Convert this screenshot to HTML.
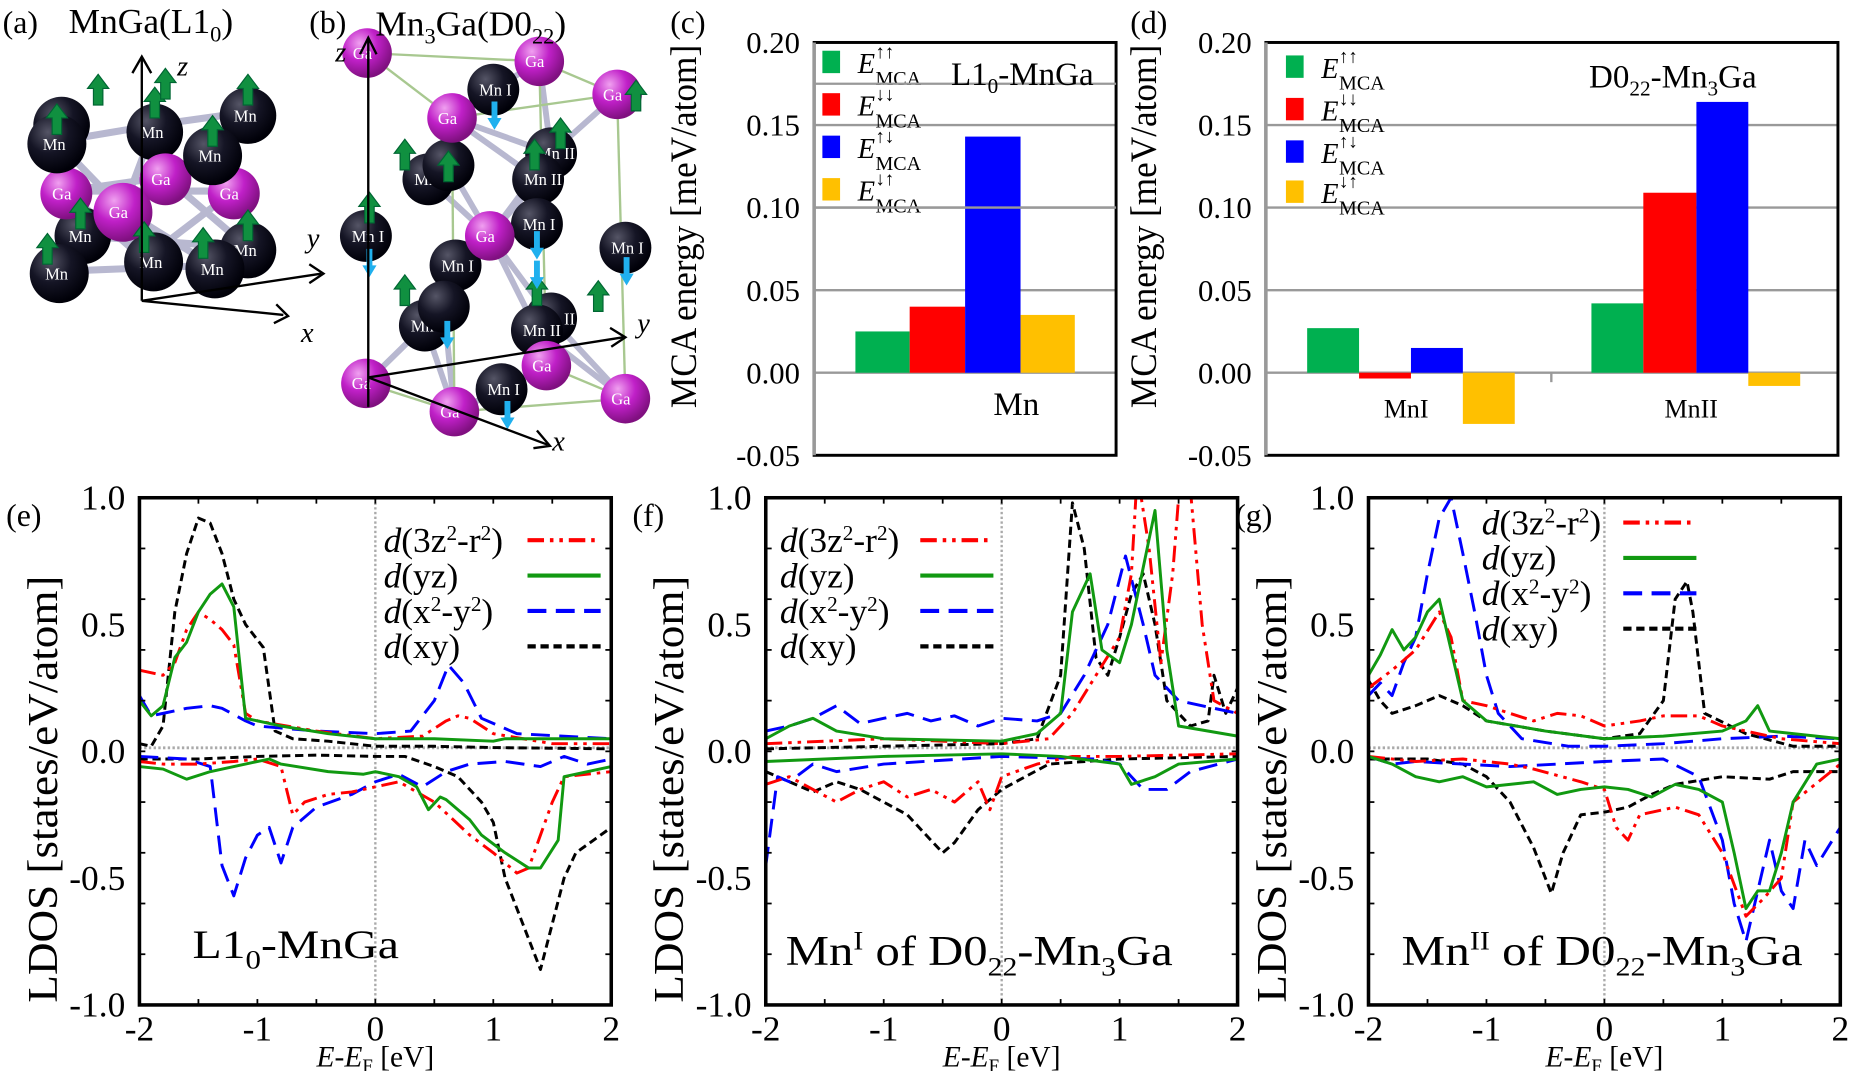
<!DOCTYPE html>
<html><head><meta charset="utf-8"><style>
html,body{margin:0;padding:0;background:#fff;}
svg{display:block;}
text{font-family:"Liberation Serif",serif;fill:#000;}
</style></head><body>
<svg id="s" width="1850" height="1071" viewBox="0 0 1568 908" xmlns="http://www.w3.org/2000/svg">
<defs>
<radialGradient id="gm" cx="0.35" cy="0.3" r="0.7"><stop offset="0" stop-color="#555566"/><stop offset="0.5" stop-color="#151525"/><stop offset="1" stop-color="#000008"/></radialGradient>
<radialGradient id="gg" cx="0.35" cy="0.3" r="0.7"><stop offset="0" stop-color="#f0a0f0"/><stop offset="0.5" stop-color="#c020c8"/><stop offset="1" stop-color="#801080"/></radialGradient>
</defs>
<g id="crys"></g>
<text x="2" y="28" font-size="27">(a)</text>
<text x="58" y="28" font-size="30">MnGa(L1<tspan font-size="19" dy="7">0</tspan><tspan dy="-7">)</tspan></text>
<text x="262" y="28" font-size="27">(b)</text>
<text x="318" y="30" font-size="30">Mn<tspan font-size="19" dy="7">3</tspan><tspan dy="-7">Ga(D0</tspan><tspan font-size="19" dy="7">22</tspan><tspan dy="-7">)</tspan></text>
<text x="568" y="28" font-size="27">(c)</text>
<text x="958" y="28" font-size="27">(d)</text>
<g id="bars"></g>
<g id="ldos"></g>
</svg>
<script>
var NS="http://www.w3.org/2000/svg";
function el(p,t,a,txt){var e=document.createElementNS(NS,t);for(var k in a)e.setAttribute(k,a[k]);if(txt!==undefined)e.textContent=txt;p.appendChild(e);return e;}
var C=document.getElementById('crys');
function bond(x1,y1,x2,y2,w){el(C,'line',{x1:x1,y1:y1,x2:x2,y2:y2,stroke:'#b8b8d0','stroke-width':w||6,'stroke-linecap':'round'});}
function sph(x,y,r,ga,lab){el(C,'circle',{cx:x,cy:y,r:r,fill:ga?'url(#gg)':'url(#gm)'});if(lab)el(C,'text',{x:x-12,y:y+5,'font-size':14,style:'fill:#fff'},lab);}
function up(x,y){el(C,'path',{d:'M'+(x-4)+' '+(y+14)+'V'+(y)+'H'+(x-9)+'L'+x+' '+(y-12)+'L'+(x+9)+' '+y+'H'+(x+4)+'V'+(y+14)+'Z',fill:'#109040',stroke:'#063','stroke-width':1});}
function dn(x,y){el(C,'path',{d:'M'+(x-2.5)+' '+(y-14)+'V'+(y)+'H'+(x-6)+'L'+x+' '+(y+10)+'L'+(x+6)+' '+y+'H'+(x+2.5)+'V'+(y-14)+'Z',fill:'#20b0ee'});}
[[48,120,131,106],[131,106,210,95],[48,120,104,178],[131,106,104,178],[180,130,104,178],[104,178,50,230],[104,178,122,220],[104,178,180,225],[56,162,122,220],[140,150,210,210],[198,162,122,220],[50,230,180,225],[68,200,210,210],[56,162,198,162],[140,150,56,162]].forEach(function(b){bond(b[0],b[1],b[2],b[3]);});
[[52,106,'Mn'],[131,112,'Mn'],[210,98,'Mn'],[70,200,'Mn'],[210,212,'Mn']].forEach(function(p){sph(p[0],p[1],24,0,p[2]);});
sph(140,152,22,1,'Ga');sph(56,164,22,1,'Ga');sph(198,164,22,1,'Ga');
[[48,122,'Mn'],[180,132,'Mn'],[130,222,'Mn'],[50,232,'Mn'],[182,228,'Mn']].forEach(function(p){sph(p[0],p[1],25,0,p[2]);});
sph(104,180,25,1,'Ga');
[[48,100],[131,86],[210,75],[180,110],[68,180],[210,190],[122,200],[40,210],[172,205],[83,75],[140,70]].forEach(function(p){up(p[0],p[1]);});
el(C,'line',{x1:120,y1:50,x2:120,y2:255,stroke:'#000','stroke-width':2});
el(C,'path',{d:'M112 62L120 48L128 62',fill:'none',stroke:'#000','stroke-width':2});
el(C,'line',{x1:120,y1:255,x2:272,y2:232,stroke:'#000','stroke-width':2});
el(C,'path',{d:'M262 224L274 232L262 240',fill:'none',stroke:'#000','stroke-width':2});
el(C,'line',{x1:120,y1:255,x2:240,y2:267,stroke:'#000','stroke-width':2});
el(C,'path',{d:'M234 258L244 268L232 274',fill:'none',stroke:'#000','stroke-width':2});
el(C,'text',{x:150,y:64,'font-size':24,'font-style':'italic'},'z');
el(C,'text',{x:260,y:210,'font-size':24,'font-style':'italic'},'y');
el(C,'text',{x:255,y:290,'font-size':24,'font-style':'italic'},'x');
var gaB=[[311,45],[457,52],[523,80],[383,100],[310,325],[385,349],[530,338],[463,310],[415,200]];
var mnB=[[418,76,'Mn I'],[467,130,'Mn II'],[363,152,'Mn II'],[456,152,'Mn II'],[310,200,'Mn I'],[455,190,'Mn I'],[530,210,'Mn I'],[386,225,'Mn I'],[467,270,'Mn II'],[360,276,'Mn II'],[455,280,'Mn II'],[425,330,'Mn I'],[380,140,''],[376,260,'']];
gaB.forEach(function(a){mnB.forEach(function(b){var d=Math.hypot(a[0]-b[0],a[1]-b[1]);if(d<95)bond(a[0],a[1],b[0],b[1],5);});});
[[311,45,457,52],[457,52,523,80],[311,45,383,100],[383,100,523,80],[310,325,385,349],[385,349,530,338],[530,338,463,310],[523,80,530,338],[383,100,385,349],[457,52,463,310]].forEach(function(b){el(C,'line',{x1:b[0],y1:b[1],x2:b[2],y2:b[3],stroke:'#a8c890','stroke-width':2});});
mnB.forEach(function(m){sph(m[0],m[1],22,0,m[2]);});
gaB.forEach(function(g){sph(g[0],g[1],21,1,'Ga');});
[[343,130],[380,140],[475,112],[453,130],[539,80],[343,245],[455,245],[507,250],[313,175]].forEach(function(p){up(p[0],p[1]);});
[[419,100],[455,210],[531,232],[379,286],[430,354],[313,225],[455,235]].forEach(function(p){dn(p[0],p[1]);});
el(C,'line',{x1:312,y1:32,x2:312,y2:345,stroke:'#000','stroke-width':2});
el(C,'path',{d:'M305 46L312 32L319 46',fill:'none',stroke:'#000','stroke-width':2});
el(C,'line',{x1:312,y1:320,x2:528,y2:286,stroke:'#000','stroke-width':2});
el(C,'path',{d:'M517 278L530 286L518 294',fill:'none',stroke:'#000','stroke-width':2});
el(C,'line',{x1:312,y1:320,x2:464,y2:377,stroke:'#000','stroke-width':2});
el(C,'path',{d:'M455 365L466 378L452 380',fill:'none',stroke:'#000','stroke-width':2});
el(C,'text',{x:284,y:52,'font-size':24,'font-style':'italic'},'z');
el(C,'text',{x:540,y:282,'font-size':24,'font-style':'italic'},'y');
el(C,'text',{x:468,y:382,'font-size':24,'font-style':'italic'},'x');

var B=document.getElementById('bars');
function yb(v){return 316-v*1400;}
function barPanel(x0,x1,bars,legX){
 [0.05,0.10,0.15].forEach(function(v){el(B,'line',{x1:x0,y1:yb(v),x2:x1,y2:yb(v),stroke:'#999','stroke-width':2});});
 el(B,'line',{x1:x0,y1:yb(0),x2:x1,y2:yb(0),stroke:'#999','stroke-width':2});
 bars.forEach(function(b){var y=yb(Math.max(b[2],0)),h=Math.abs(b[2])*1400;el(B,'rect',{x:b[0],y:y,width:b[1]-b[0],height:Math.max(h,1),fill:b[3]});});
 el(B,'rect',{x:x0,y:36,width:x1-x0,height:350,fill:'none',stroke:'#000','stroke-width':2.5});
 el(B,'line',{x1:x0,y1:36,x2:x0,y2:386,stroke:'#999','stroke-width':3});
 [['0.20',0.2],['0.15',0.15],['0.10',0.1],['0.05',0.05],['0.00',0],['-0.05',-0.05]].forEach(function(t){el(B,'text',{x:x0-12,y:yb(t[1])+9,'font-size':26,'text-anchor':'end'},t[0]);});
 var sups=['↑↑','↓↓','↑↓','↓↑'],cols=['#00b050','#ff0000','#0000ff','#ffc000'],ys=legX[1];
 for(var i=0;i<4;i++){el(B,'rect',{x:legX[0],y:ys[i]-9,width:15,height:19,fill:cols[i]});
  el(B,'text',{x:legX[0]+30,y:ys[i]+10,'font-size':24,'font-style':'italic'},'E');
  el(B,'text',{x:legX[0]+45,y:ys[i]-3,'font-size':16},sups[i]);
  el(B,'text',{x:legX[0]+45,y:ys[i]+20,'font-size':17,'font-family':'Liberation Sans'},'MCA');}
}
barPanel(690,946,[[725,771,0.025,'#00b050'],[771,818,0.04,'#ff0000'],[818,865,0.143,'#0000ff'],[865,911,0.035,'#ffc000']],[697,[52,88,124,160]]);
el(B,'line',{x1:690,y1:71,x2:946,y2:71,stroke:'#999','stroke-width':2});
el(B,'line',{x1:690,y1:176,x2:946,y2:176,stroke:'#999','stroke-width':2});
var tt=el(B,'text',{x:806,y:72,'font-size':28});tt.innerHTML='L1<tspan font-size="18" dy="7">0</tspan><tspan dy="-7">-MnGa</tspan>';
el(B,'text',{x:842,y:352,'font-size':28},'Mn');
barPanel(1073,1558,[[1108,1152,0.027,'#00b050'],[1152,1196,-0.0035,'#ff0000'],[1196,1240,0.015,'#0000ff'],[1240,1284,-0.031,'#ffc000'],[1349,1393,0.042,'#00b050'],[1393,1438,0.109,'#ff0000'],[1438,1482,0.164,'#0000ff'],[1482,1526,-0.008,'#ffc000']],[1090,[56,92,128,162]]);
el(B,'line',{x1:1315,y1:316,x2:1315,y2:324,stroke:'#999','stroke-width':2});
var td=el(B,'text',{x:1347,y:74,'font-size':28});td.innerHTML='D0<tspan font-size="18" dy="7">22</tspan><tspan dy="-7">-Mn</tspan><tspan font-size="18" dy="7">3</tspan><tspan dy="-7">Ga</tspan>';
el(B,'text',{x:1173,y:354,'font-size':22},'MnI');el(B,'text',{x:1411,y:354,'font-size':22},'MnII');
[590,980].forEach(function(p){el(B,'text',{x:0,y:0,'font-size':31,'text-anchor':'middle',textLength:308,lengthAdjust:'spacingAndGlyphs',transform:'translate('+p+',192) rotate(-90)'},'MCA energy [meV/atom]');});

var L=document.getElementById('ldos');
var cfg={r:['#ff0000','14,5,3,5,3,5'],g:['#119911',''],b:['#0000ff','16,8'],k:['#000','7,4']};
function panel(x0,lab,series){
 var x1=x0+400,yt=422,yb2=852,y0=637;
 function X(e){return x0+(e+2)*100;} function Y(v){return y0-v*215;}
 el(L,'line',{x1:x0,y1:y0-3,x2:x1,y2:y0-3,stroke:'#aaa','stroke-width':2.5,'stroke-dasharray':'2,2'});
 el(L,'line',{x1:X(0),y1:yt,x2:X(0),y2:yb2,stroke:'#aaa','stroke-width':2,'stroke-dasharray':'2,2'});
 var cp=el(L,'clipPath',{id:'c'+x0});el(cp,'rect',{x:x0,y:yt,width:400,height:430});
 var g=el(L,'g',{'clip-path':'url(#c'+x0+')'});
 ['k','b','r','g'].forEach(function(k){series[k].forEach(function(d){var s='';d.forEach(function(p,i){s+=(i?'L':'M')+X(p[0]).toFixed(1)+' '+Y(p[1]).toFixed(1);});
  el(g,'path',{d:s,fill:'none',stroke:cfg[k][0],'stroke-width':2.5,'stroke-dasharray':cfg[k][1],'stroke-linejoin':'round'});});});
 el(L,'rect',{x:x0,y:yt,width:400,height:430,fill:'none',stroke:'#000','stroke-width':3});
 for(var e=-2;e<=2;e+=0.5){el(L,'line',{x1:X(e),y1:yb2,x2:X(e),y2:yb2-5,stroke:'#000','stroke-width':1.5});el(L,'line',{x1:X(e),y1:yt,x2:X(e),y2:yt+5,stroke:'#000','stroke-width':1.5});}
 for(var v=-1;v<=1.01;v+=0.2){el(L,'line',{x1:x0,y1:Y(v),x2:x0+5,y2:Y(v),stroke:'#000','stroke-width':1.5});el(L,'line',{x1:x1,y1:Y(v),x2:x1-5,y2:Y(v),stroke:'#000','stroke-width':1.5});}
 [['1.0',1],['0.5',0.5],['0.0',0],['-0.5',-0.5],['-1.0',-1]].forEach(function(t){el(L,'text',{x:x0-12,y:Y(t[1])+10,'font-size':30,'text-anchor':'end'},t[0]);});
 [-2,-1,0,1,2].forEach(function(e){el(L,'text',{x:X(e),y:882,'font-size':30,'text-anchor':'middle'},String(e));});
 var t=el(L,'text',{x:X(0),y:904,'font-size':25,'text-anchor':'middle'});
 t.innerHTML='<tspan font-style="italic">E</tspan>-<tspan font-style="italic">E</tspan><tspan font-size="16" dy="5">F</tspan><tspan dy="-5"> [eV]</tspan>';
 el(L,'text',{x:0,y:0,'font-size':36,'text-anchor':'middle',textLength:362,lengthAdjust:'spacingAndGlyphs',transform:'translate('+(x0-70)+',669) rotate(-90)'},'LDOS [states/eV/atom]');
 el(L,'text',{x:x0-113,y:446,'font-size':27},lab);
}
function leg(x,y,lx){
 var names=['(3z<tspan font-size="18" dy="-10">2</tspan><tspan dy="10">-r</tspan><tspan font-size="18" dy="-10">2</tspan><tspan dy="10">)</tspan>','(yz)','(x<tspan font-size="18" dy="-10">2</tspan><tspan dy="10">-y</tspan><tspan font-size="18" dy="-10">2</tspan><tspan dy="10">)</tspan>','(xy)'];
 var ks=['r','g','b','k'];
 for(var i=0;i<4;i++){var t=el(L,'text',{x:x,y:y+i*30,'font-size':30});t.innerHTML='<tspan font-style="italic">d</tspan>'+names[i];
  el(L,'line',{x1:lx,y1:y+i*30-10,x2:lx+62,y2:y+i*30-10,stroke:cfg[ks[i]][0],'stroke-width':3.5,'stroke-dasharray':cfg[ks[i]][1]});}
}
var E={
k:[[[-2,0.03],[-1.9,0.02],[-1.8,0.1],[-1.7,0.55],[-1.6,0.78],[-1.5,0.92],[-1.4,0.9],[-1.3,0.78],[-1.2,0.6],[-1.1,0.5],[-0.95,0.41],[-0.85,0.08],[-0.7,0.05],[-0.4,0.04],[0,0.02],[0.5,0.02],[1,0.015],[2,0.01]],
[[-2,-0.03],[-1.5,-0.03],[-1,-0.02],[-0.5,-0.015],[0,-0.02],[0.25,-0.02],[0.5,-0.06],[0.7,-0.1],[0.9,-0.2],[1.0,-0.28],[1.1,-0.5],[1.2,-0.62],[1.4,-0.86],[1.6,-0.5],[1.7,-0.4],[1.85,-0.35],[2,-0.3]]],
g:[[[-2,0.2],[-1.9,0.14],[-1.8,0.18],[-1.7,0.37],[-1.6,0.43],[-1.5,0.55],[-1.4,0.62],[-1.3,0.66],[-1.2,0.57],[-1.1,0.13],[-0.8,0.1],[-0.4,0.07],[0,0.05],[0.5,0.05],[1,0.04],[1.1,0.05],[1.5,0.05],[2,0.05]],
[[-2,-0.06],[-1.8,-0.07],[-1.6,-0.11],[-1.4,-0.08],[-1.2,-0.06],[-0.9,-0.03],[-0.8,-0.05],[-0.4,-0.08],[-0.1,-0.09],[0,-0.08],[0.2,-0.1],[0.35,-0.14],[0.45,-0.23],[0.55,-0.18],[0.6,-0.19],[0.8,-0.27],[0.9,-0.33],[1.1,-0.4],[1.3,-0.46],[1.4,-0.46],[1.55,-0.35],[1.6,-0.1],[2,-0.06]]],
r:[[[-2,0.32],[-1.8,0.3],[-1.7,0.35],[-1.6,0.48],[-1.5,0.55],[-1.4,0.52],[-1.3,0.48],[-1.2,0.42],[-1.1,0.15],[-1,0.12],[-0.5,0.08],[0,0.05],[0.4,0.06],[0.6,0.12],[0.7,0.14],[0.8,0.13],[1,0.07],[1.5,0.03],[2,0.03]],
[[-2,-0.04],[-1.8,-0.05],[-1.5,-0.05],[-1.2,-0.04],[-1,-0.03],[-0.8,-0.06],[-0.7,-0.25],[-0.6,-0.2],[-0.4,-0.17],[-0.2,-0.16],[0,-0.14],[0.2,-0.12],[0.5,-0.2],[0.8,-0.33],[1,-0.4],[1.2,-0.48],[1.3,-0.46],[1.5,-0.2],[1.6,-0.1],[2,-0.08]]],
b:[[[-2,0.22],[-1.9,0.14],[-1.8,0.15],[-1.6,0.17],[-1.4,0.18],[-1.3,0.17],[-1.1,0.12],[-1,0.1],[-0.5,0.08],[0,0.07],[0.3,0.08],[0.5,0.2],[0.62,0.34],[0.75,0.27],[0.9,0.13],[1.2,0.07],[2,0.05]],
[[-2,-0.02],[-1.6,-0.03],[-1.4,-0.06],[-1.3,-0.45],[-1.2,-0.57],[-1.1,-0.42],[-1,-0.33],[-0.9,-0.3],[-0.8,-0.44],[-0.7,-0.3],[-0.5,-0.22],[-0.2,-0.17],[0,-0.12],[0.2,-0.09],[0.4,-0.14],[0.6,-0.08],[0.8,-0.05],[1.1,-0.04],[1.4,-0.06],[1.6,-0.02],[1.8,-0.05],[2,-0.03]]]};
var F={
k:[[[-2,0.01],[-1,0.02],[0,0.03],[0.3,0.05],[0.5,0.3],[0.6,0.98],[0.7,0.8],[0.8,0.37],[0.9,0.3],[1.0,0.45],[1.1,0.62],[1.2,0.7],[1.3,0.5],[1.4,0.2],[1.6,0.1],[1.75,0.12],[1.8,0.3],[1.9,0.15],[2,0.25]],
[[-2,-0.08],[-1.8,-0.12],[-1.6,-0.16],[-1.4,-0.12],[-1.2,-0.15],[-1,-0.2],[-0.8,-0.25],[-0.6,-0.35],[-0.5,-0.4],[-0.4,-0.36],[-0.2,-0.23],[0,-0.15],[0.2,-0.1],[0.4,-0.05],[1,-0.03],[2,-0.02]]],
g:[[[-2,0.05],[-1.8,0.1],[-1.6,0.13],[-1.4,0.08],[-1,0.05],[0,0.04],[0.3,0.07],[0.5,0.15],[0.6,0.55],[0.75,0.7],[0.85,0.4],[1.0,0.35],[1.1,0.5],[1.3,0.95],[1.4,0.4],[1.5,0.1],[2,0.06]],
[[-2,-0.04],[-1.5,-0.03],[-1,-0.02],[0,-0.01],[0.5,-0.02],[1,-0.05],[1.1,-0.13],[1.3,-0.1],[1.5,-0.05],[2,-0.03]]],
r:[[[-2,0.03],[-1,0.05],[0,0.03],[0.4,0.05],[0.6,0.15],[0.8,0.3],[1.0,0.45],[1.1,0.7],[1.15,1.1],[1.25,0.8],[1.35,0.35],[1.45,0.7],[1.55,1.3],[1.7,0.5],[1.8,0.2],[2,0.15]],
[[-2,-0.13],[-1.8,-0.1],[-1.6,-0.15],[-1.4,-0.2],[-1.2,-0.15],[-1,-0.12],[-0.8,-0.18],[-0.6,-0.15],[-0.4,-0.2],[-0.2,-0.12],[-0.1,-0.23],[0,-0.1],[0.3,-0.05],[0.6,-0.02],[1,-0.02],[2,-0.01]]],
b:[[[-2,0.08],[-1.8,0.1],[-1.6,0.13],[-1.4,0.18],[-1.2,0.11],[-1,0.13],[-0.8,0.15],[-0.6,0.12],[-0.4,0.14],[-0.2,0.1],[0,0.13],[0.3,0.12],[0.5,0.15],[0.7,0.3],[0.9,0.5],[1.05,0.77],[1.2,0.5],[1.3,0.3],[1.5,0.2],[2,0.15]],
[[-2,-0.45],[-1.9,-0.1],[-1.8,-0.12],[-1.6,-0.05],[-1.4,-0.08],[-1,-0.05],[0,-0.02],[0.8,-0.03],[1.0,-0.05],[1.1,-0.1],[1.2,-0.15],[1.4,-0.15],[1.6,-0.08],[2,-0.03]]]};
var G={
b:[[[-2,0.22],[-1.9,0.27],[-1.8,0.22],[-1.7,0.35],[-1.6,0.45],[-1.5,0.7],[-1.4,0.92],[-1.3,1.0],[-1.2,0.78],[-1.1,0.55],[-1,0.3],[-0.9,0.15],[-0.7,0.05],[-0.3,0.02],[0,0.02],[0.5,0.03],[1,0.05],[1.5,0.06],[2,0.05]],
[[-2,-0.02],[-1.8,-0.05],[-1.6,-0.04],[-1.2,-0.05],[-0.8,-0.06],[-0.4,-0.05],[0,-0.04],[0.5,-0.03],[0.8,-0.1],[1.0,-0.35],[1.1,-0.6],[1.2,-0.75],[1.3,-0.55],[1.4,-0.35],[1.5,-0.55],[1.6,-0.62],[1.7,-0.35],[1.8,-0.45],[2,-0.3]]],
g:[[[-2,0.3],[-1.9,0.38],[-1.8,0.48],[-1.7,0.4],[-1.6,0.45],[-1.5,0.55],[-1.4,0.6],[-1.3,0.4],[-1.2,0.2],[-1,0.12],[-0.5,0.08],[0,0.05],[0.5,0.06],[1,0.08],[1.2,0.12],[1.3,0.18],[1.4,0.08],[2,0.05]],
[[-2,-0.02],[-1.8,-0.05],[-1.6,-0.1],[-1.4,-0.12],[-1.2,-0.1],[-1,-0.14],[-0.6,-0.12],[-0.4,-0.17],[-0.2,-0.15],[0,-0.14],[0.2,-0.15],[0.4,-0.18],[0.6,-0.13],[0.8,-0.15],[1.0,-0.2],[1.1,-0.4],[1.2,-0.62],[1.3,-0.55],[1.4,-0.55],[1.5,-0.4],[1.6,-0.2],[1.8,-0.05],[2,-0.03]]],
r:[[[-2,0.25],[-1.8,0.32],[-1.6,0.4],[-1.4,0.55],[-1.3,0.45],[-1.2,0.2],[-1,0.18],[-0.8,0.15],[-0.6,0.12],[-0.4,0.15],[-0.2,0.14],[0,0.1],[0.3,0.12],[0.5,0.14],[0.8,0.14],[1.0,0.1],[1.5,0.05],[2,0.03]],
[[-2,-0.02],[-1.6,-0.04],[-1.2,-0.03],[-0.8,-0.05],[-0.6,-0.07],[-0.2,-0.12],[0,-0.15],[0.1,-0.3],[0.2,-0.35],[0.3,-0.25],[0.6,-0.22],[0.8,-0.25],[1.0,-0.4],[1.2,-0.65],[1.35,-0.58],[1.5,-0.5],[1.6,-0.2],[2,-0.05]]],
k:[[[-2,0.28],[-1.9,0.2],[-1.8,0.15],[-1.6,0.18],[-1.4,0.22],[-1.2,0.18],[-1,0.12],[-0.5,0.08],[0,0.05],[0.3,0.07],[0.5,0.2],[0.6,0.6],[0.7,0.67],[0.75,0.55],[0.85,0.15],[1.2,0.07],[1.6,0.02],[2,0.02]],
[[-2,-0.03],[-1.5,-0.03],[-1.2,-0.05],[-1,-0.1],[-0.8,-0.2],[-0.6,-0.38],[-0.45,-0.56],[-0.35,-0.4],[-0.2,-0.25],[0,-0.24],[0.2,-0.22],[0.4,-0.17],[0.6,-0.13],[1,-0.1],[1.4,-0.11],[1.6,-0.08],[2,-0.08]]]};
panel(118,'(e)',E);panel(649,'(f)',F);panel(1160,'(g)',G);
leg(325,468,447);leg(661,468,780);leg(1256,453,1376);
var t1=el(L,'text',{x:163,y:812,'font-size':34,textLength:175,lengthAdjust:'spacingAndGlyphs'});t1.innerHTML='L1<tspan font-size="22" dy="9">0</tspan><tspan dy="-9">-MnGa</tspan>';
var t2=el(L,'text',{x:666,y:818,'font-size':36,textLength:328,lengthAdjust:'spacingAndGlyphs'});t2.innerHTML='Mn<tspan font-size="22" dy="-13">I</tspan><tspan dy="13"> of D0</tspan><tspan font-size="22" dy="9">22</tspan><tspan dy="-9">-Mn</tspan><tspan font-size="22" dy="9">3</tspan><tspan dy="-9">Ga</tspan>';
var t3=el(L,'text',{x:1188,y:818,'font-size':36,textLength:340,lengthAdjust:'spacingAndGlyphs'});t3.innerHTML='Mn<tspan font-size="22" dy="-13">II</tspan><tspan dy="13"> of D0</tspan><tspan font-size="22" dy="9">22</tspan><tspan dy="-9">-Mn</tspan><tspan font-size="22" dy="9">3</tspan><tspan dy="-9">Ga</tspan>';
</script>
</body></html>
